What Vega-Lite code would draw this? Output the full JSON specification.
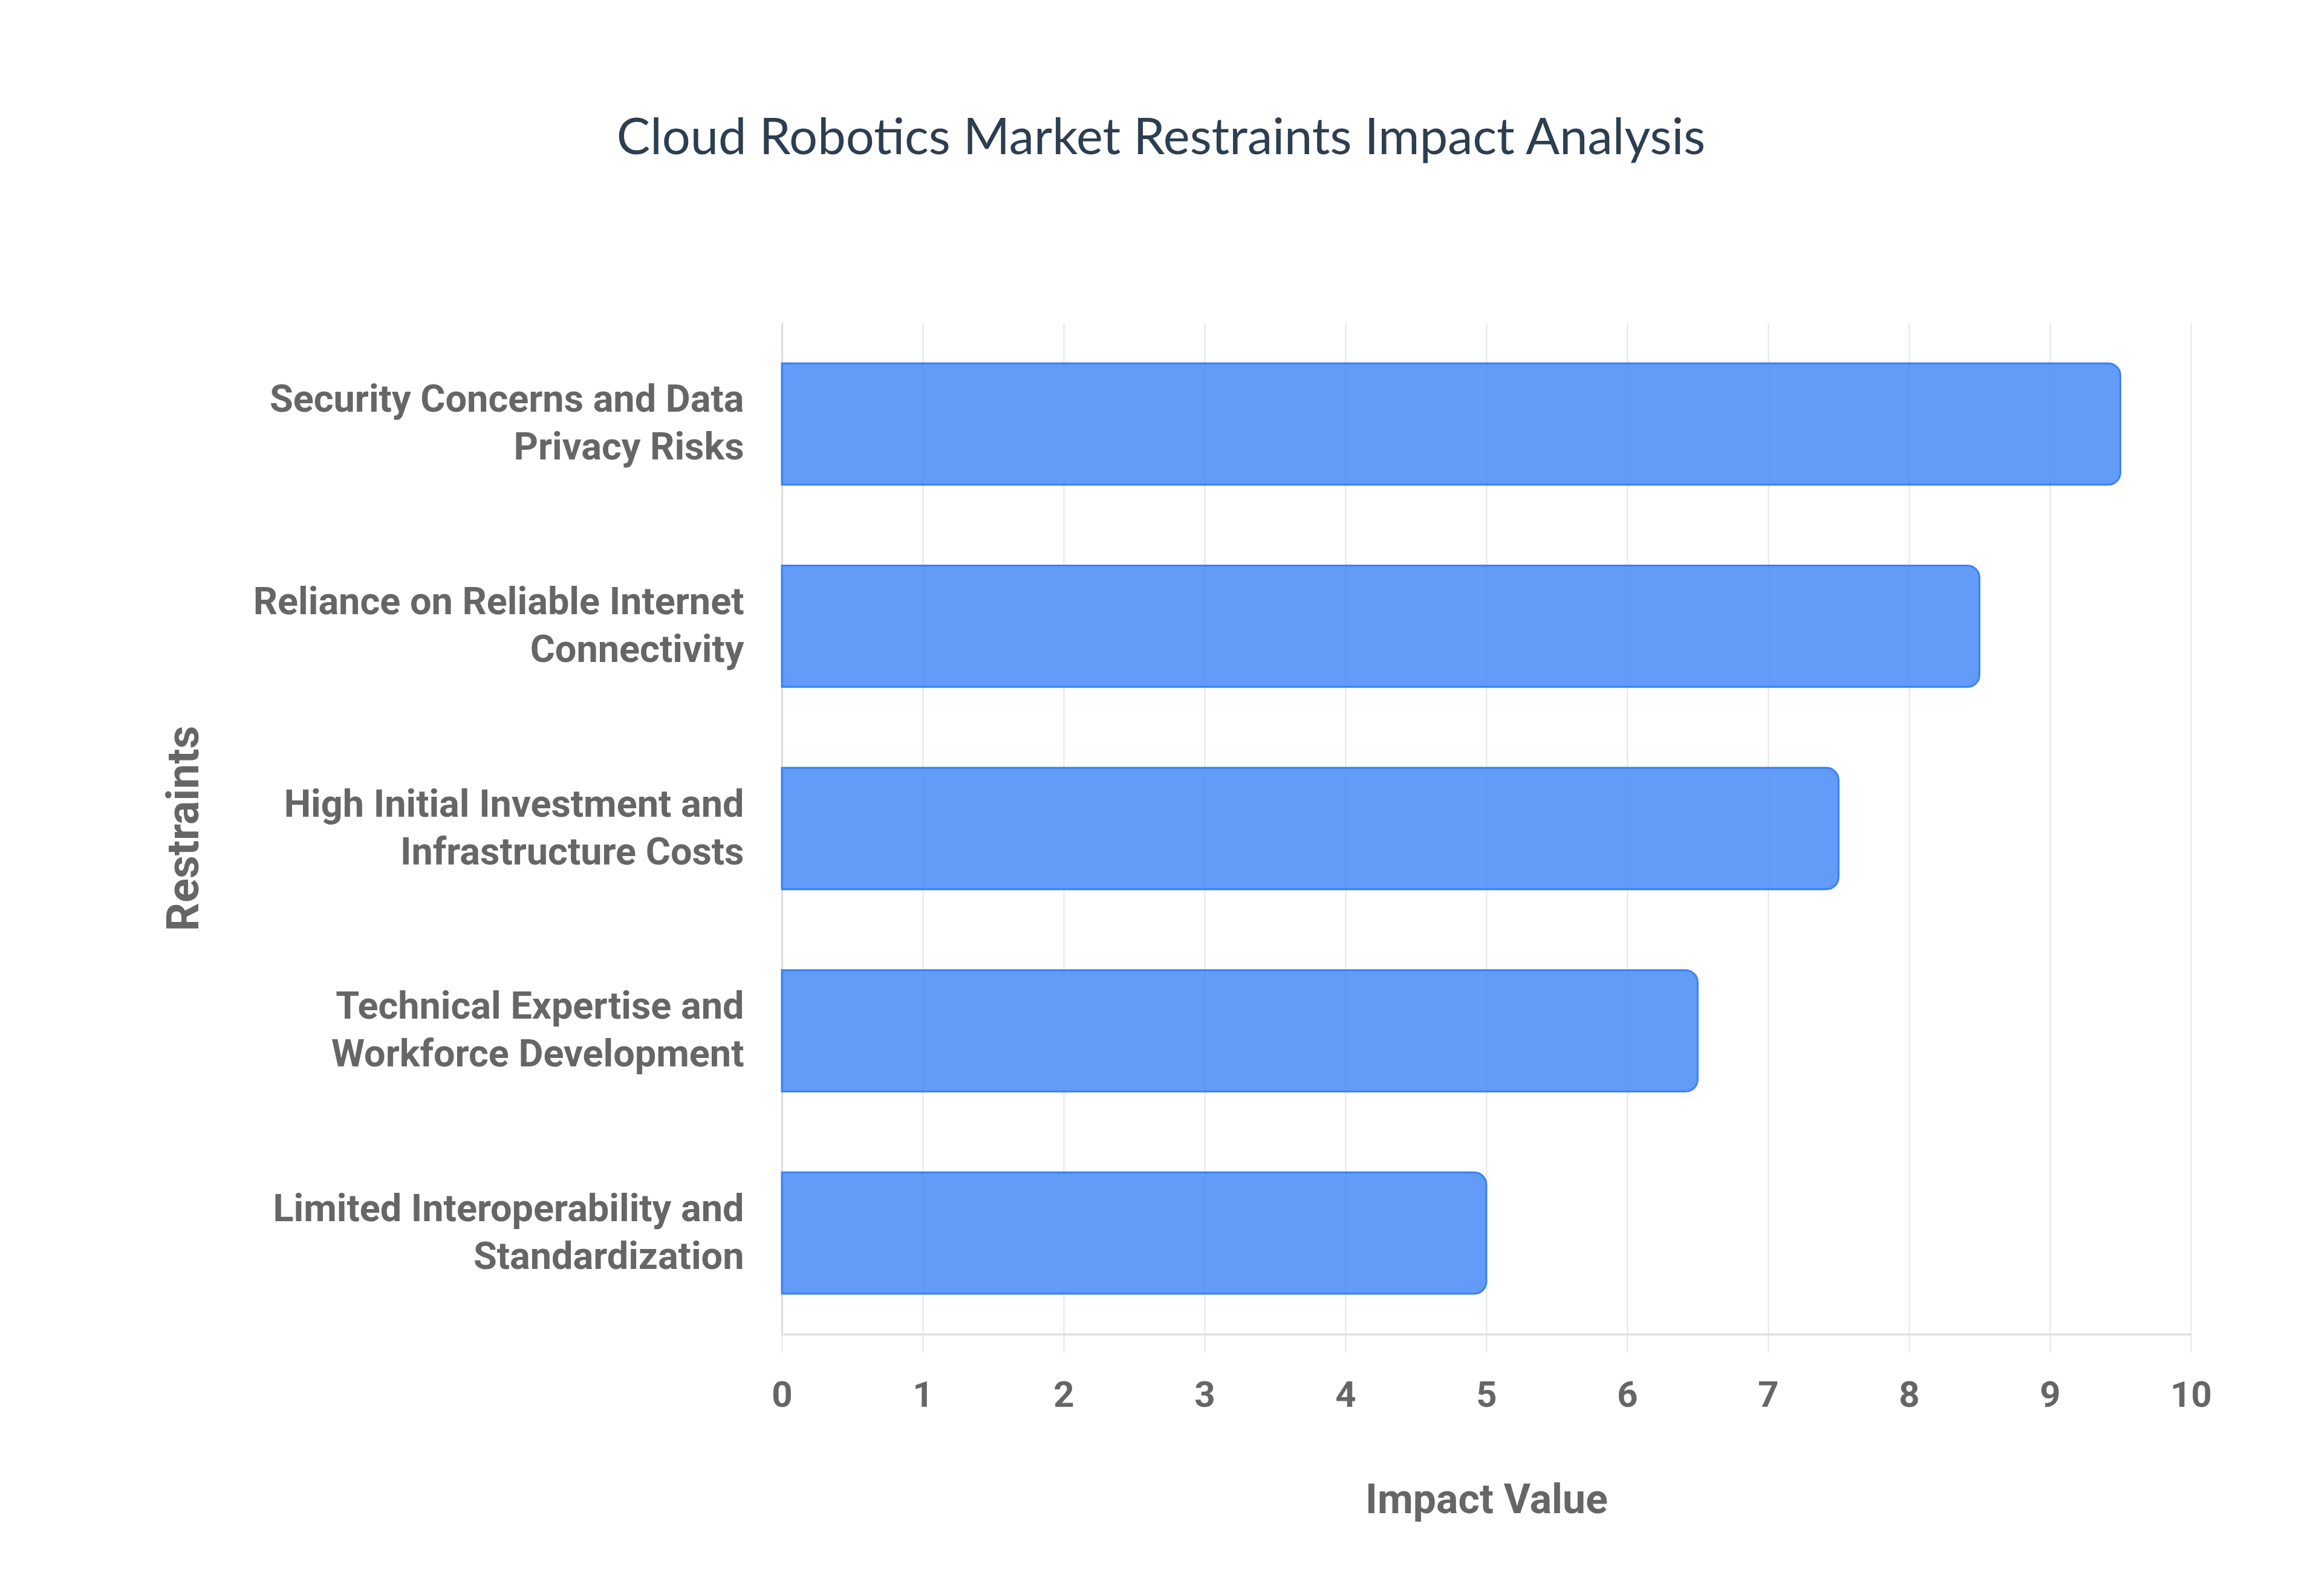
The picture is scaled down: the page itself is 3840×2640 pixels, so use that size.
{
  "$schema": "https://vega.github.io/schema/vega-lite/v6.json",
  "width": 2330,
  "height": 1673,
  "autosize": {"type": "none"},
  "padding": {"left": 1293, "top": 534, "right": 217, "bottom": 433},
  "background": "white",
  "title": {
    "text": "Cloud Robotics Market Restraints Impact Analysis",
    "anchor": "middle",
    "dx": -538,
    "offset": 196,
    "baseline": "alphabetic",
    "font": "Lato",
    "fontSize": 83,
    "fontWeight": "normal",
    "color": "#2c3e50"
  },
  "data": {
    "values": [
      {"restraint": "Security Concerns and Data\nPrivacy Risks", "impact": 9.5},
      {"restraint": "Reliance on Reliable Internet\nConnectivity", "impact": 8.5},
      {"restraint": "High Initial Investment and\nInfrastructure Costs", "impact": 7.5},
      {"restraint": "Technical Expertise and\nWorkforce Development", "impact": 6.5},
      {"restraint": "Limited Interoperability and\nStandardization", "impact": 5.0}
    ]
  },
  "mark": {
    "type": "bar",
    "color": "#3B82F6",
    "fillOpacity": 0.8,
    "stroke": "#3B82F6",
    "strokeWidth": 3,
    "cornerRadiusEnd": 20
  },
  "encoding": {
    "y": {
      "field": "restraint",
      "type": "nominal",
      "sort": null,
      "scale": {"paddingInner": 0.4, "paddingOuter": 0.2},
      "axis": {
        "title": "Restraints",
        "labelExpr": "split(datum.label, '\\n')",
        "labelFont": "Roboto",
        "labelFontWeight": "bold",
        "labelFontSize": 63,
        "labelLineHeight": 79,
        "labelColor": "#666666",
        "labelPadding": 63,
        "labelOffset": -39,
        "labelLimit": 1200,
        "ticks": false,
        "grid": false,
        "domainColor": "#dddddd",
        "domainWidth": 3,
        "titleFont": "Roboto",
        "titleFontWeight": "bold",
        "titleFontSize": 74,
        "titleColor": "#666666",
        "titleX": -966,
        "titleY": 836,
        "titleAngle": -90,
        "titleAlign": "center",
        "titleBaseline": "alphabetic"
      }
    },
    "x": {
      "field": "impact",
      "type": "quantitative",
      "scale": {"domain": [0, 10]},
      "axis": {
        "title": "Impact Value",
        "values": [0, 1, 2, 3, 4, 5, 6, 7, 8, 9, 10],
        "labelOverlap": false,
        "labelFlush": false,
        "labelFont": "Roboto",
        "labelFontWeight": "bold",
        "labelFontSize": 60,
        "labelColor": "#666666",
        "labelPadding": 42,
        "tickSize": 30,
        "tickColor": "#e5e5e5",
        "tickWidth": 2,
        "gridColor": "#e5e5e5",
        "gridWidth": 2,
        "domainColor": "#dddddd",
        "domainWidth": 3,
        "titleFont": "Roboto",
        "titleFontWeight": "bold",
        "titleFontSize": 68,
        "titleColor": "#666666",
        "titleX": 1165,
        "titleY": 295,
        "titleAlign": "center",
        "titleBaseline": "alphabetic"
      }
    }
  },
  "config": {
    "view": {"stroke": null}
  }
}
